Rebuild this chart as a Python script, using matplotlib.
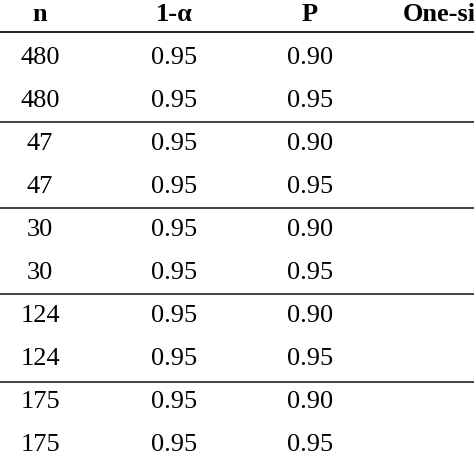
import matplotlib.pyplot as plt

n_values = ["480", "480", "47", "47", "30", "30", "124", "124", "175", "175"]
conf_values = ["0.95"] * 10
p_values = ["0.90", "0.95"] * 5
headers = ["n", "1-α", "P", "One-sided"]

plt.rcParams['font.family'] = ['Liberation Serif', 'DejaVu Serif']

fig = plt.figure(figsize=(4.74, 4.74), dpi=100)
ax = fig.add_axes([0, 0, 1, 1])
ax.set_xlim(0, 474)
ax.set_ylim(474, 0)
ax.axis('off')

col_x = [40, 174, 310, 403]
fs = 19
for i, h in enumerate(headers):
    ha = 'left' if i == 3 else 'center'
    ax.text(col_x[i], 14, h, ha=ha, va='center', fontsize=fs, fontweight='bold')

ax.axhline(32, color='#222222', lw=1.4)
for y in [122, 208, 294, 382]:
    ax.axhline(y, color='#444444', lw=1.4)

for r in range(len(n_values)):
    y = 58 + r * 43
    ax.text(col_x[0], y, n_values[r], ha='center', va='center', fontsize=fs)
    ax.text(col_x[1], y, conf_values[r], ha='center', va='center', fontsize=fs)
    ax.text(col_x[2], y, p_values[r], ha='center', va='center', fontsize=fs)

fig.savefig('out.png', dpi=100)
